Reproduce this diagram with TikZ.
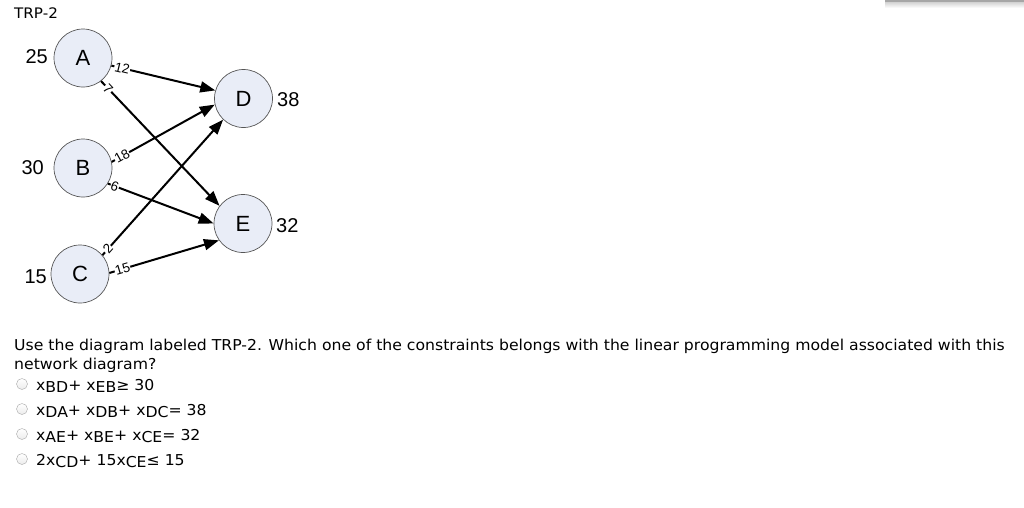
\documentclass[tikz,border=0pt]{standalone}
\usepackage{fontspec}
\setmainfont[FakeStretch=1.045]{DejaVu Sans}
\newfontfamily\arialfont{Liberation Sans}
\usetikzlibrary{arrows.meta,positioning}
\definecolor{nodefill}{HTML}{E9EDF7}
\definecolor{nodeline}{HTML}{555555}
\newcommand{\xv}[1]{x\raisebox{-2.5pt}{#1}}
\begin{document}
\begin{tikzpicture}[x=1pt,y=-1pt,
  site/.style={draw=nodeline, line width=0.7pt, circle, fill=nodefill, minimum size=58pt, inner sep=0pt, font=\arialfont\fontsize{22}{22}\selectfont},
  amount/.style={inner sep=0pt, font=\arialfont\fontsize{20}{20}\selectfont},
  flow/.style={line width=2pt, -{Triangle[length=15pt,width=11pt]}},
  cost/.style={sloped, fill=white, inner sep=0.5pt, font=\arialfont\fontsize{13.5}{13.5}\selectfont},
  radio/.style={draw=gray!70, circle, minimum size=11pt, inner sep=0pt, top color=white, bottom color=gray!15},
  line/.style={anchor=base west, inner sep=0pt, font=\fontsize{15}{15}\selectfont}]
\useasboundingbox (0,0) rectangle (1024,507);
% shadow line top right
\fill[gray!70] (885,0) rectangle (1024,2);
\shade[top color=gray!35, bottom color=white] (885,2) rectangle (1024,8);
\node[line, font=\fontsize{14.5}{14.5}\selectfont] (title) at (14,18.5) {TRP-2};
\node[site] (A) at (83,58) {A};
\node[site] (B) at (83,168) {B};
\node[site] (C) at (80,274) {C};
\node[site] (D) at (243.5,98.5) {D};
\node[site] (E) at (243,223.5) {E};
\node[amount, anchor=east] (sA) at (48,57) {25};
\node[amount, anchor=east] (sB) at (44,168) {30};
\node[amount, anchor=east] (sC) at (47,277) {15};
\node[amount, anchor=west] (dD) at (277,99.5) {38};
\node[amount, anchor=west] (dE) at (276,225.5) {32};
\path[draw,flow] (A.-15) -- node[cost,pos=0.105] {12} (D.164);
\path[draw,flow] (A.-52) -- node[cost,pos=0.06] {7} (E.143);
\path[draw,flow] (B.12) -- node[cost,pos=0.10] {18} (D.-168);
\path[draw,flow] (B.-32) -- node[cost,pos=0.065] {6} (E.180);
\path[draw,flow] (C.40) -- node[cost,pos=0.045] {2} (D.-134);
\path[draw,flow] (C.2) -- node[cost,pos=0.12] {15} (E.-145);
% question
\node[line] (q1) at (14,350.5) {Use the diagram labeled TRP-2. Which one of the constraints belongs with the linear programming model associated with this};
\node[line] (q2) at (14,369.5) {network diagram?};
\node[radio] (r1) at (22,384) {};
\node[radio] (r2) at (22,409) {};
\node[radio] (r3) at (22,434) {};
\node[radio] (r4) at (22,459) {};
\node[line] (o1) at (36,390) {\xv{BD}+ \xv{EB}≥ 30};
\node[line] (o2) at (36,415) {\xv{DA}+ \xv{DB}+ \xv{DC}= 38};
\node[line] (o3) at (36,440) {\xv{AE}+ \xv{BE}+ \xv{CE}= 32};
\node[line] (o4) at (36,465) {2\xv{CD}+ 15\xv{CE}≤ 15};
\end{tikzpicture}
\end{document}
